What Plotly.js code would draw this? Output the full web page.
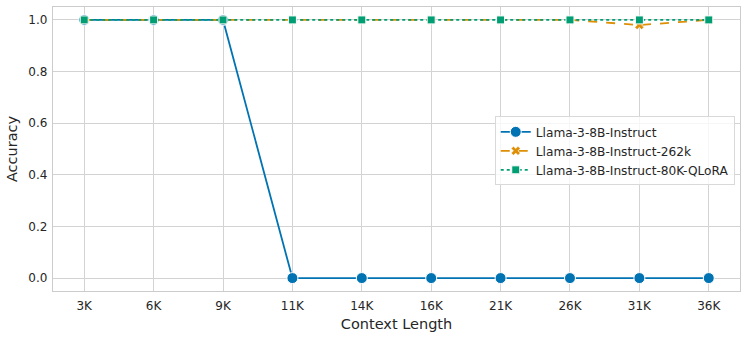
<!DOCTYPE html>
<html><head><meta charset="utf-8">
<script src="https://cdn.plot.ly/plotly-3.0.1.min.js"></script>
<style>body{margin:0;padding:0;background:#fff}#chart{width:747px;height:338px}</style>
</head><body><div id="chart"></div>
<script>
const categories = ["3K","6K","9K","11K","14K","16K","21K","26K","31K","36K"];
const instruct = [1,1,1,0,0,0,0,0,0,0];
const instruct262k = [1,1,1,1,1,1,1,1,0.98,1];
const instruct80k = [1,1,1,1,1,1,1,1,1,1];

const traces = [
  {x: categories, y: instruct, name: "Llama-3-8B-Instruct", mode: "lines+markers",
   line: {color: "#0173b2", width: 1.8, dash: "solid"},
   marker: {symbol: "circle", size: 11, color: "#0173b2", line: {color: "#fff", width: 1}}},
  {x: categories, y: instruct262k, name: "Llama-3-8B-Instruct-262k", mode: "lines+markers",
   line: {color: "#de8f05", width: 1.8, dash: "dash"},
   marker: {symbol: "x", size: 8, color: "#de8f05", line: {color: "#fff", width: 0.5}}},
  {x: categories, y: instruct80k, name: "Llama-3-8B-Instruct-80K-QLoRA", mode: "lines+markers",
   line: {color: "#029e73", width: 1.8, dash: "dot"},
   marker: {symbol: "square", size: 8, color: "#029e73", line: {color: "#fff", width: 1}}}
];

const layout = {
  width: 747, height: 338,
  margin: {l: 53, r: 7, t: 7, b: 47},
  paper_bgcolor: "#fff", plot_bgcolor: "#fff",
  font: {family: "DejaVu Sans", color: "#262626", size: 12},
  xaxis: {type: "category", range: [-0.45, 9.45], showgrid: true, gridcolor: "#d3d3d3", gridwidth: 1,
    ticks: "", showline: true, linecolor: "#cccccc", linewidth: 1.2, mirror: true, zeroline: false,
    ticklabelstandoff: 3,
    tickfont: {size: 12}, title: {text: "Context Length", font: {size: 14.5}, standoff: 7}},
  yaxis: {range: [-0.05, 1.05], tickvals: [0,0.2,0.4,0.6,0.8,1.0], ticktext: ["0.0","0.2","0.4","0.6","0.8","1.0"],
    showgrid: true, gridcolor: "#d3d3d3", gridwidth: 1, ticks: "", showline: true, linecolor: "#cccccc",
    linewidth: 1.2, mirror: true, zeroline: false, tickfont: {size: 12}, ticklabelstandoff: 2,
    title: {text: "Accuracy", font: {size: 14.5}, standoff: 7}},
  legend: {x: 0.643, y: 0.615, xanchor: "left", yanchor: "top", bgcolor: "rgba(255,255,255,0.8)",
    bordercolor: "#d9d9d9", borderwidth: 1, font: {size: 12.2}, tracegroupgap: 0},
  showlegend: true
};
Plotly.newPlot("chart", traces, layout, {displayModeBar: false, staticPlot: true});
</script></body></html>
